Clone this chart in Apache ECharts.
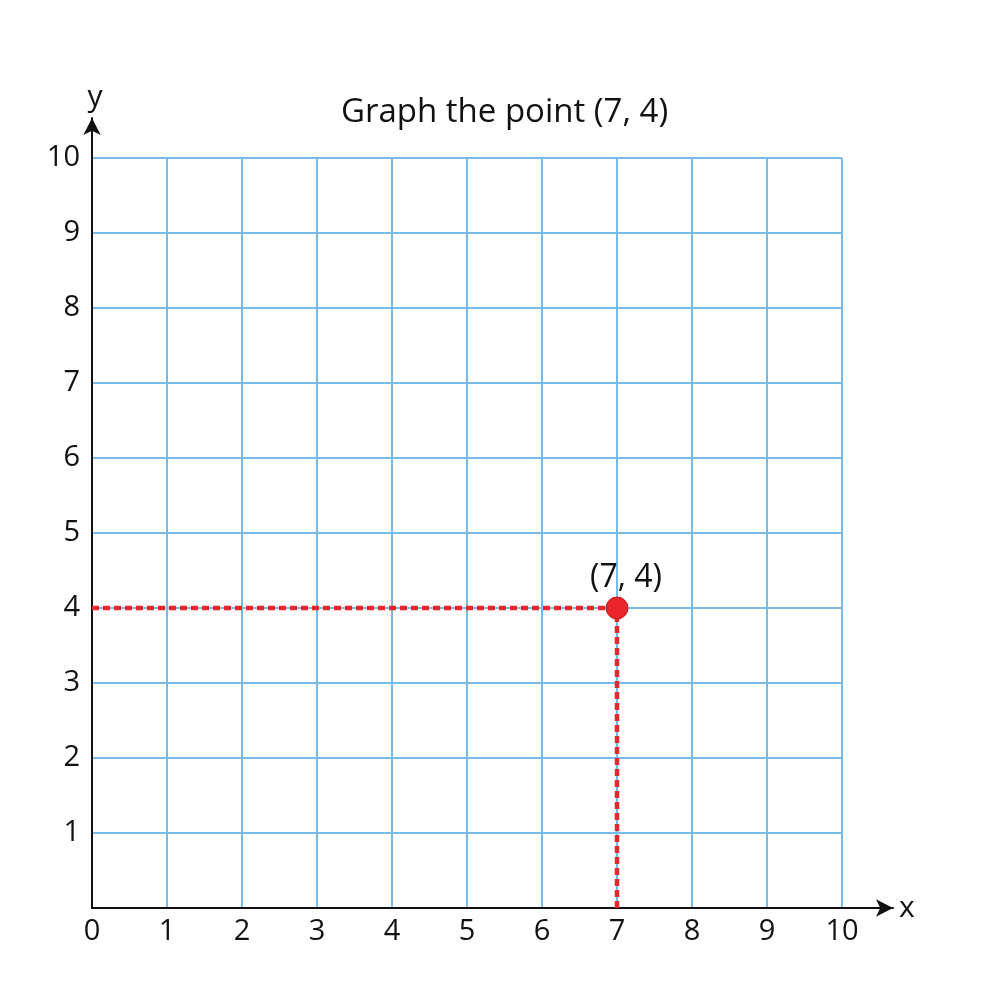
<!DOCTYPE html>
<html>
<head>
<meta charset="utf-8">
<script src="https://cdn.jsdelivr.net/npm/echarts@6/dist/echarts.min.js"></script>
<style>html,body{margin:0;padding:0;background:#fff;}#c{width:1000px;height:1000px;}</style>
</head>
<body>
<div id="c"></div>
<script>
var titleText = 'Graph the point (7, 4)';
var xTicks = [0,1,2,3,4,5,6,7,8,9,10];
var yTicks = [0,1,2,3,4,5,6,7,8,9,10];
var point = [7, 4];
var pointLabel = '(7, 4)';
var axisNames = ['x', 'y'];

var FONT = '"Open Sans", "Noto Sans", sans-serif';
var GRIDC = '#77bbe9';
var RED = '#e8262b';

var chart = echarts.init(document.getElementById('c'));
chart.setOption({
  backgroundColor: '#fff',
  animation: false,
  title: {
    text: titleText, left: 336, top: 91,
    textStyle: {fontFamily: FONT, fontSize: 33, fontWeight: 'normal', color: '#111'}
  },
  grid: [
    {left: 92, right: 158, top: 158, bottom: 92},
    {left: 92, right: 107, top: 118, bottom: 92}
  ],
  xAxis: [
    {gridIndex: 0, type: 'value', min: xTicks[0], max: xTicks[xTicks.length-1], interval: 1,
     axisLine: {show: false}, axisTick: {show: false},
     splitLine: {show: true, lineStyle: {color: GRIDC, width: 2}},
     axisLabel: {margin: 9, fontFamily: FONT, fontSize: 29, color: '#111'}},
    {gridIndex: 1, type: 'value', min: 0, max: 1, z: 5,
     axisLine: {show: true, symbol: ['none', 'arrow'], symbolSize: [13, 17], lineStyle: {color: '#111', width: 2}},
     axisTick: {show: false}, axisLabel: {show: false}, splitLine: {show: false},
     name: axisNames[0], nameLocation: 'end', nameGap: 6,
     nameTextStyle: {fontFamily: FONT, fontSize: 30, color: '#111', verticalAlign: 'middle'}}
  ],
  yAxis: [
    {gridIndex: 0, type: 'value', min: yTicks[0], max: yTicks[yTicks.length-1], interval: 1,
     axisLine: {show: false}, axisTick: {show: false},
     splitLine: {show: true, lineStyle: {color: GRIDC, width: 2}},
     axisLabel: {margin: 12, showMinLabel: false, fontFamily: FONT, fontSize: 29, color: '#111'}},
    {gridIndex: 1, type: 'value', min: 0, max: 1, z: 5,
     axisLine: {show: true, symbol: ['none', 'arrow'], symbolSize: [13, 17], lineStyle: {color: '#111', width: 2}},
     axisTick: {show: false}, axisLabel: {show: false}, splitLine: {show: false},
     name: axisNames[1], nameLocation: 'end', nameGap: 6,
     nameTextStyle: {fontFamily: FONT, fontSize: 30, color: '#111', align: 'center', verticalAlign: 'bottom', padding: [0,0,0,6]}}
  ],
  series: [
    {type: 'line', xAxisIndex: 0, yAxisIndex: 0, symbol: 'none', z: 6,
     data: [[0, point[1]], [point[0], point[1]]],
     lineStyle: {color: RED, width: 4.5, type: [7, 4]}},
    {type: 'line', xAxisIndex: 0, yAxisIndex: 0, symbol: 'none', z: 6,
     data: [[point[0], 0], [point[0], point[1]]],
     lineStyle: {color: RED, width: 4.5, type: [7, 4]}},
    {type: 'scatter', xAxisIndex: 0, yAxisIndex: 0, z: 7,
     data: [point], symbolSize: 22,
     itemStyle: {color: RED, borderColor: '#c4141b', borderWidth: 1, opacity: 1},
     label: {show: true, position: 'top', distance: 3, offset: [9, 0], formatter: pointLabel,
             fontFamily: FONT, fontSize: 32, color: '#111'}}
  ]
});
</script>
</body>
</html>
